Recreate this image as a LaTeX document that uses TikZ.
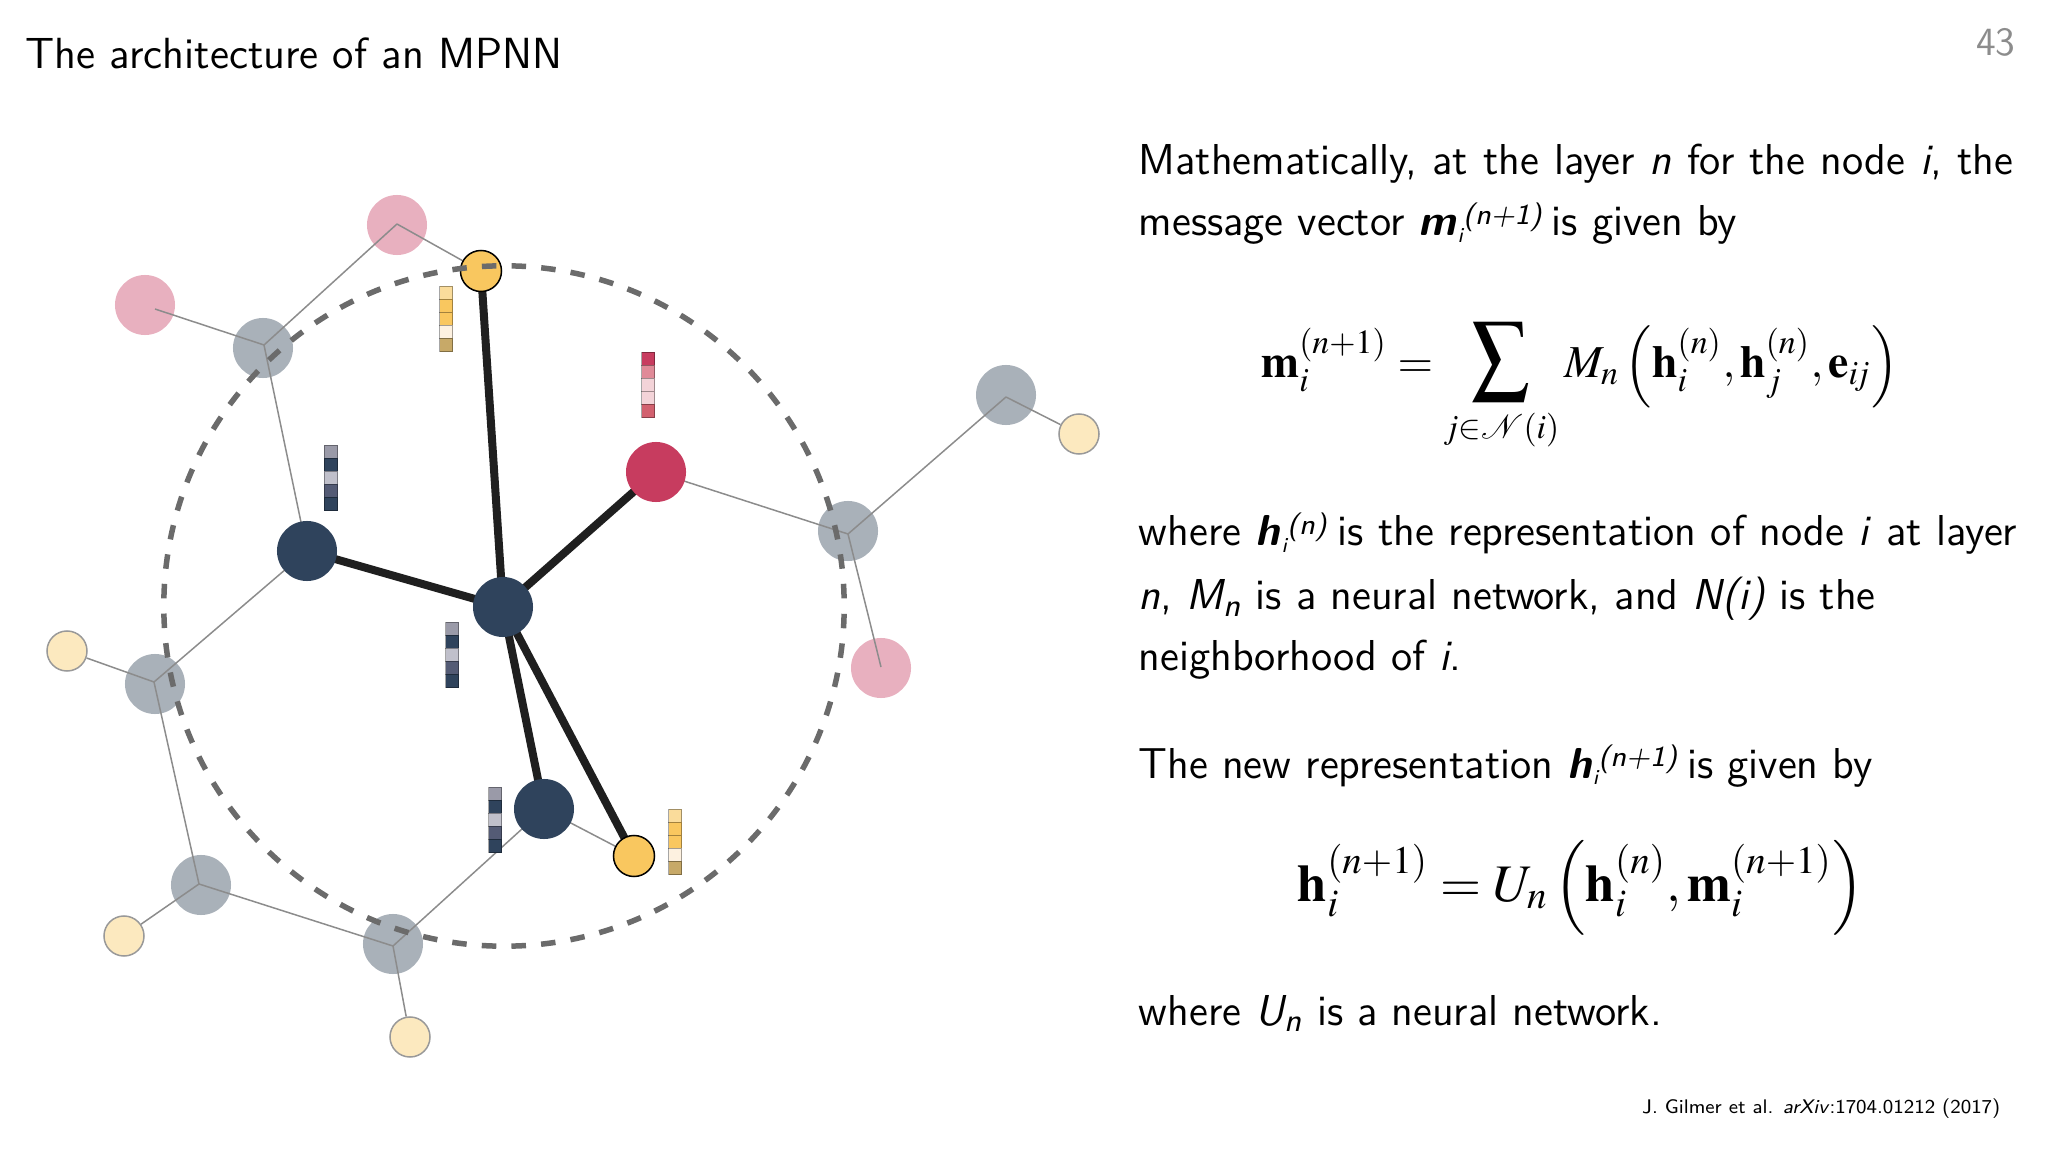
\documentclass[tikz,border=0pt]{standalone}
\usepackage{amsmath}
\usepackage{mathptmx}
\usepackage[no-math]{fontspec}
\usetikzlibrary{positioning}
\definecolor{darkn}{HTML}{2F435C}
\definecolor{grayn}{HTML}{A9B1B9}
\definecolor{pinkn}{HTML}{E8B0BF}
\definecolor{redn}{HTML}{C73C5F}
\definecolor{yelln}{HTML}{F9C75F}
\definecolor{palen}{HTML}{FCE9BF}
\definecolor{ya}{HTML}{FADC9B}
\definecolor{yb}{HTML}{FDF1E0}
\definecolor{yc}{HTML}{C7A968}
\definecolor{da}{HTML}{9A9AA8}
\definecolor{db}{HTML}{C0C0CB}
\definecolor{dc}{HTML}{545B75}
\definecolor{ra}{HTML}{E08A98}
\definecolor{rb}{HTML}{F3D3D8}
\definecolor{rc}{HTML}{D2616F}
\tikzset{
    atom/.style={circle, inner sep=0pt, minimum size=0.6cm},
    small atom/.style={circle, inner sep=0pt, minimum size=0.4cm},
    pale atom/.style={small atom, fill=palen, draw=black!40, line width=0.015cm},
    gold atom/.style={small atom, minimum size=0.41cm, fill=yelln, draw=black, line width=0.015cm},
    cellbox/.style={rectangle, inner sep=0pt, minimum size=0.13cm, draw=black, draw opacity=0.35, line width=0.01cm},
    bond/.style={line width=0.015cm, draw=black!45},
    msg/.style={line width=0.08cm, draw=black!88},
    txt/.style={anchor=base west, inner sep=0pt, font=\fontsize{12.3}{15}\selectfont\sffamily},
    eqn/.style={anchor=base, inner sep=0pt, font=\fontsize{13}{15}\selectfont},
}
\newcommand{\vecbar}[4]{\foreach \cellc [count=\k from 0] in {#4} \node[cellbox, fill=\cellc] (#3\k) at (#1, #2+13*\k) {};}
\newcommand{\tvec}[3]{\textbf{\textit{#1}}\rlap{\raisebox{-0.35ex}{\fontsize{6}{7}\selectfont\textit{#2}}}\kern0.13em\raisebox{0.6ex}{\fontsize{8.2}{10}\selectfont\textit{#3}}\kern-0.1em\relax}
\newcommand{\bigsum}{\mathop{\text{\scalebox{1.25}[1.4]{$\displaystyle\sum$}}}}
\begin{document}
\begin{tikzpicture}[x=0.01cm, y=-0.01cm, >=stealth]
        \useasboundingbox (0,0) rectangle (2048,1152);
        \node[atom, fill=pinkn] (pk1) at (145,305) {};
        \node[atom, fill=pinkn] (pk2) at (397,225) {};
        \node[atom, fill=pinkn] (pk3) at (881,668) {};
        \node[atom, fill=grayn] (gr1) at (263,348) {};
        \node[atom, fill=grayn] (gr2) at (155,684) {};
        \node[atom, fill=grayn] (gr3) at (201,885) {};
        \node[atom, fill=grayn] (gr4) at (393,944) {};
        \node[atom, fill=grayn] (gr5) at (848,531) {};
        \node[atom, fill=grayn] (gr6) at (1006,395) {};
        \node[pale atom] (pl1) at (67,651) {};
        \node[pale atom] (pl2) at (124,936) {};
        \node[pale atom] (pl3) at (410,1037) {};
        \node[pale atom] (pl4) at (1079,434) {};
        \coordinate (e1) at (155,309);
        \coordinate (j1) at (264,345);
        \coordinate (j2) at (154,682);
        \coordinate (j3) at (199,884);
        \coordinate (j4) at (393,946);
        \coordinate (j5) at (848,534);
        \coordinate (j6) at (1006,397);
        \coordinate (j7) at (397,224);
        \coordinate (e3) at (881,667);
        \node[atom] (ctr) at (503,607) {};
        \node[atom] (dk1) at (307,551) {};
        \node[atom] (dk2) at (544,809) {};
        \node[atom] (rd1) at (656,472) {};
        \node[small atom, minimum size=0.41cm] (yl1) at (481,271) {};
        \node[small atom, minimum size=0.41cm] (yl2) at (634,856) {};
        \draw[bond] (e1) -- (j1);
        \draw[bond] (j1) -- (j7);
        \draw[bond] (j7) -- (yl1.center);
        \draw[bond] (j1) -- (dk1.center);
        \draw[bond] (dk1.center) -- (j2);
        \draw[bond] (j2) -- (pl1);
        \draw[bond] (j2) -- (j3);
        \draw[bond] (j3) -- (pl2);
        \draw[bond] (j3) -- (j4);
        \draw[bond] (j4) -- (pl3);
        \draw[bond] (j4) -- (dk2.center);
        \draw[bond] (dk2.center) -- (yl2.center);
        \draw[bond] (rd1.center) -- (j5);
        \draw[bond] (j5) -- (j6);
        \draw[bond] (j6) -- (pl4);
        \draw[bond] (j5) -- (e3);
        \draw[msg] (ctr.center) -- (yl1.center);
        \draw[msg] (ctr.center) -- (rd1.center);
        \draw[msg] (ctr.center) -- (dk1.center);
        \draw[msg] (ctr.center) -- (dk2.center);
        \draw[msg] (ctr.center) -- (yl2.center);
        \node[atom, fill=darkn] at (ctr) {};
        \node[atom, fill=darkn] at (dk1) {};
        \node[atom, fill=darkn] at (dk2) {};
        \node[atom, fill=redn] at (rd1) {};
        \node[gold atom] at (yl1) {};
        \node[gold atom] at (yl2) {};
        \node[circle, inner sep=0pt, minimum size=6.8cm, draw=black!58, line width=0.055cm, dash pattern=on 0.145cm off 0.1517cm, dash phase=0.22cm] (hood) at (504,606) {};
        \vecbar{446}{293}{by1}{ya,yelln,yelln,yb,yc}
        \vecbar{331}{452}{bd1}{da,darkn,db,dc,darkn}
        \vecbar{452}{629}{bc}{da,darkn,db,dc,darkn}
        \vecbar{495}{794}{bd2}{da,darkn,db,dc,darkn}
        \vecbar{675}{816}{by2}{ya,yelln,yelln,yb,yc}
        \vecbar{648}{359}{br}{redn,ra,rb,rb,rc}
        \node[txt, font=\fontsize{12.4}{15}\selectfont\sffamily] (title) at (25,69) {The architecture of an MPNN};
        \node[txt, anchor=base east, text=black!45, font=\fontsize{11.4}{14}\selectfont\sffamily] (page) at (2016,56) {43};
        \node[txt] (l1) at (1138,175) {\makebox[8.74cm][s]{Mathematically, at the layer \textit{n} for the node \textit{i}, the}};
        \node[txt] (l2) at (1138,236) {message vector \tvec{m}{i}{(n+1)} is given by};
        \node[eqn] (eq1) at (1580,378) {$\displaystyle \mathbf{m}_i^{(n+1)} = \bigsum_{\rule{0pt}{0.29cm}j\in\mathcal{N}(i)} M_n\left(\mathbf{h}_i^{(n)},\mathbf{h}_j^{(n)},\mathbf{e}_{i\!j}\right)$};
        \node[txt] (l3) at (1138,546) {\makebox[8.78cm][s]{where \tvec{h}{i}{(n)} is the representation of node \textit{i} at layer}};
        \node[txt] (l4) at (1138,610) {\textit{n}, $\text{\itshape M}_{\text{\itshape n}}$ is a neural network, and \textit{N(i)} is the};
        \node[txt] (l5) at (1138,670) {neighborhood of \textit{i}.};
        \node[txt] (l6) at (1138,778) {The new representation \tvec{h}{i}{(n+1)} is given by};
        \node[eqn, font=\fontsize{15}{18}\selectfont] (eq2) at (1581,901) {$\displaystyle \mathbf{h}_i^{(n+1)} = U_n\left(\mathbf{h}_i^{(n)},\mathbf{m}_i^{(n+1)}\right)$};
        \node[txt] (l7) at (1138,1025) {where $\text{\itshape U}_{\text{\itshape n}}$ is a neural network.};
        \node[txt, anchor=base east, font=\fontsize{5.6}{7}\selectfont\sffamily] (cite) at (2001,1113) {J. Gilmer et al. \textit{arXiv}:1704.01212 (2017)};
    \end{tikzpicture}
\end{document}
